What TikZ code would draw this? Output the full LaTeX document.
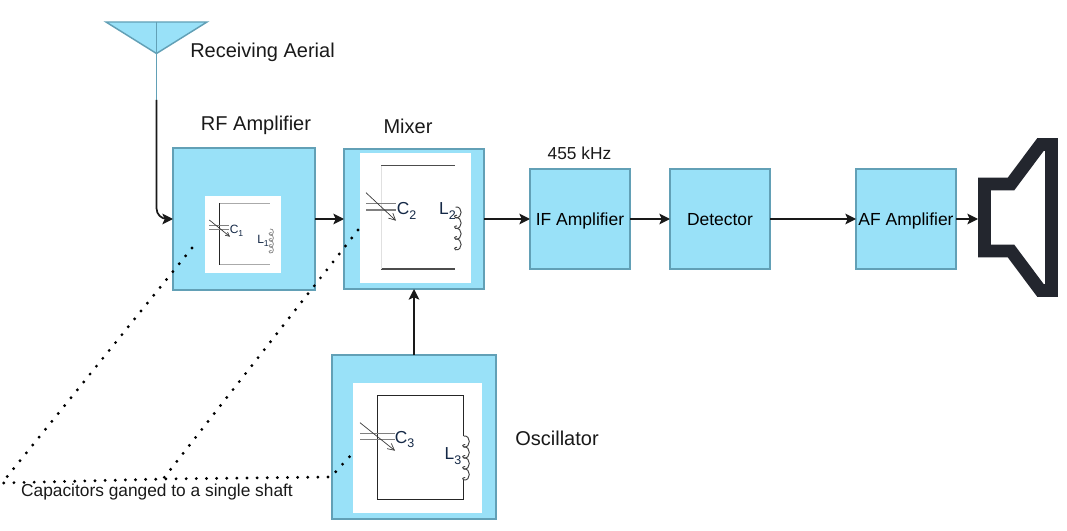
\documentclass[tikz,border=0pt]{standalone}
\usepackage{fontspec}
\setmainfont{Liberation Sans}
\usetikzlibrary{arrows.meta,bending}
\definecolor{blockfill}{RGB}{153,225,248}
\definecolor{blockline}{RGB}{98,160,182}
\definecolor{spk}{RGB}{35,38,46}
\definecolor{wiregray}{RGB}{170,170,170}
\definecolor{partink}{RGB}{20,40,70}
\tikzset{
  sized/.style 2 args={minimum width=#1*0.75pt,minimum height=#2*0.75pt,inner sep=0pt,outer sep=0pt},
  block/.style={draw=blockline,line width=1.4pt,fill=blockfill,font=\fontsize{13.1pt}{15pt}\selectfont,text depth=0pt},
  panel/.style={fill=white},
  label/.style={inner sep=0pt,font=\fontsize{15pt}{18pt}\selectfont,text=black!90},
  smalllabel/.style={inner sep=0pt,font=\fontsize{13pt}{15pt}\selectfont,text=black!90},
  flow/.style={draw=black!90,line width=1.3pt,-{Stealth[length=8pt,width=8pt,inset=1.8pt]}},
  gang/.style={draw=black,line width=2.4pt,line cap=round,dash pattern=on 0pt off 7.6pt},
  wire/.style={draw=black!85,line width=0.75pt},
  plate/.style={draw=black!50,line width=1.1pt},
  tune/.style={draw=black!80,line width=0.5pt,-{Straight Barb[length=5pt,width=5pt]}},
  coilwire/.style={draw=black!75,line width=0.7pt},
  part/.style={inner sep=0pt,text=partink,font=\fontsize{13pt}{14pt}\selectfont},
  partsm/.style={inner sep=0pt,text=partink,font=\fontsize{9pt}{10pt}\selectfont}
}
\newcommand{\subdigit}[1]{\raisebox{-0.25em}{\scalebox{0.72}{#1}}}
% inductor: #2 x, #3 top y, #4 turns, #5 pitch, #6 bulge
\newcommand{\inductor}[6][coilwire]{%
  \foreach \k in {1,...,#4}{%
    \draw[#1] (#2,{#3+(\k-1)*#5}) .. controls ({#2+#6},{#3+(\k-1)*#5-1}) and ({#2+#6},{#3+\k*#5+1}) .. (#2,{#3+\k*#5})
      .. controls ({#2-1.5},{#3+\k*#5-0.5}) and ({#2-1.5},{#3+\k*#5-2.5}) .. ({#2+1.5},{#3+\k*#5-2.5});
  }%
}
\begin{document}
\begin{tikzpicture}[x=0.75pt,y=-0.75pt]
\useasboundingbox (0,0) rectangle (1067,531);

% Antenna
\filldraw[draw=blockline,line width=1.1pt,fill=blockfill,line join=miter] (106,22) -- (207,22) -- (156.5,53.5) -- cycle;
\coordinate (antTop) at (156.5,22);
\coordinate (antEnd) at (156.5,100);
\draw[blockline,line width=1.1pt] (antTop) -- (antEnd);

% Blocks
\node[block,sized={142}{142}] (rf) at (244,219) {};
\node[block,sized={140}{140}] (mix) at (414,219) {};
\node[block,sized={164}{164}] (osc) at (414,437) {};
\node[block,sized={100}{100}] (ifa) at (580,219) {IF Amplifier};
\node[block,sized={100}{100}] (det) at (720,219) {Detector};
\node[block,sized={100}{100}] (afa) at (906,219) {AF Amplifier};

% White panels
\node[panel,sized={76}{77}] (rfp) at (243,234.5) {};
\node[panel,sized={111}{130}] (mixp) at (415.5,218) {};
\node[panel,sized={129}{130}] (oscp) at (417.5,448) {};

% RF circuit
\draw[wiregray,line width=0.8pt] (219.3,203.3) -- (270,203.3) (219.3,264.5) -- (270,264.5);
\draw[wire] (219.3,203.3) -- (219.3,264.5);
\draw[plate,line width=0.8pt] (209,225.7) -- (229,225.7) (209,229.3) -- (229,229.3);
\draw[tune,-{Straight Barb[length=3pt,width=3pt]}] (209.3,220) -- (230,236.7);
\node[partsm] (c1) at (236.5,230.5) {C\subdigit{1}};
\node[partsm] (l1) at (263,241) {L\subdigit{1}};
\inductor[{draw=black!45,line width=0.6pt}]{270}{229}{4}{6}{4.5}

% Mixer circuit
\draw[black!70,line width=1pt] (381,165.7) -- (455,165.7) (381,269) -- (455,269);
\draw[black!12,line width=0.6pt] (381,165.7) -- (381,269);
\draw[plate] (366,203.3) -- (396,203.3) (366,210) -- (396,210);
\draw[tune] (366,192.7) -- (396,220.7);
\node[part] (c2) at (406.5,211) {C\subdigit{2}};
\node[part] (l2) at (447.5,211) {L\subdigit{2}};
\inductor{455.5}{207}{4}{10.7}{7.5}

% Oscillator circuit
\coordinate (oTL) at (377.3,395.7);
\coordinate (oTR) at (463.7,395.7);
\coordinate (oBL) at (377.3,499);
\coordinate (oBR) at (463.7,499);
\draw[wire] (463.7,436) -- (oTR) -- (oTL) -- (oBL) -- (oBR) -- (463.7,480);
\draw[plate] (360,433.3) -- (395,433.3) (360,439.3) -- (395,439.3);
\draw[tune] (360,422.7) -- (395,450.7);
\node[part] (c3) at (404.5,439.5) {C\subdigit{3}};
\node[part] (l3) at (453,456) {L\subdigit{3}};
\inductor{463.7}{436}{4}{11}{7.5}

% Speaker
\draw[spk,line width=9.6pt,line join=miter,miter limit=10]
  (984.5,184) -- (1011,184) -- (1040.5,144.5) -- (1051.5,144.5) -- (1051.5,290.5) -- (1040.5,290.5) -- (1011,251) -- (984.5,251) -- cycle;
\coordinate (spkin) at (978,219);

% Connectors
\draw[flow,rounded corners=8pt] (antEnd) -- (156.5,219) -- (rf.west);
\draw[flow] (rf.east) -- (mix.west);
\draw[flow] (mix.east) -- (ifa.west);
\draw[flow] (ifa.east) -- (det.west);
\draw[flow] (det.east) -- (afa.west);
\draw[flow] (afa.east) -- (spkin);
\draw[flow] (osc.north) -- (mix.south);

% Ganged shaft
\coordinate (g1) at (192,248);
\coordinate (g2) at (358,230);
\coordinate (g3) at (351,455);
\coordinate (gleft) at (2,483);
\coordinate (gmid) at (163,479);
\coordinate (gright) at (331,477);
\draw[gang] (g1) -- (gleft) -- (gmid) -- (gright) -- (g3);
\draw[gang] (g2) -- (gmid);

% Labels
\node[label,anchor=west] (aerial) at (190,52) {Receiving Aerial};
\node[label] (rflabel) at (256,125) {RF Amplifier};
\node[label] (mixlabel) at (408,126) {Mixer};
\node[smalllabel] (khz) at (579.5,153) {455 kHz};
\node[label] (osclabel) at (557,438) {Oscillator};
\node[smalllabel] (ganglabel) at (157,492.5) {Capacitors ganged to a single shaft};
\end{tikzpicture}
\end{document}
